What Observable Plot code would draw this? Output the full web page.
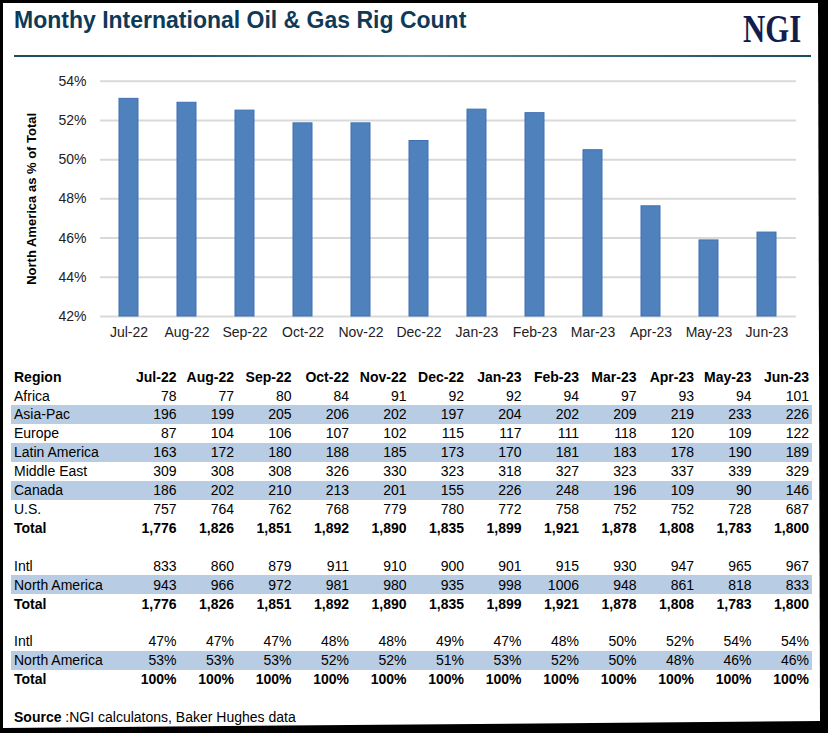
<!DOCTYPE html>
<html>
<head>
<meta charset="utf-8">
<script src="https://cdn.jsdelivr.net/npm/d3@7"></script>
<script src="https://cdn.jsdelivr.net/npm/@observablehq/plot@0.6"></script>
<style>
  body { margin: 0; background: #000; }
  #frame { position: relative; width: 828px; height: 733px; background: #000; overflow: hidden;
           font-family: "Liberation Sans", Arial, sans-serif; }
  #white { position: absolute; left: 0; top: 0; width: 828px; height: 733px; background: #fff;
           clip-path: polygon(3px 3px, 818px 3px, 820px 721px, 3px 728px); }
  #title { position: absolute; left: 14px; top: 9px; font-size: 23px; line-height: 23px; font-weight: bold;
           color: #0f3a57; white-space: nowrap; }
  #logo { position: absolute; left: 743px; top: 8.5px; font-family: "Liberation Serif", "Times New Roman", serif;
          font-size: 40px; line-height: 40px; font-weight: bold; color: #141c4e; transform: scaleX(0.77);
          transform-origin: left top; white-space: nowrap; }
  #rule { position: absolute; left: 14px; top: 55px; width: 797px; height: 2px;
          background: linear-gradient(to right, #1d4e64 0%, #2c5f75 25%, #5f889a 50%, #3d6a7e 75%, #1d4e64 100%); }
  #chart { position: absolute; left: 0; top: 60px; }
  #chart g[aria-label="y-axis label"], #chart g[aria-label="y-axis label"] text { font-weight: bold; font-size: 13px; fill: #000; }
  #tbl { position: absolute; left: 11px; top: 367.2px; width: 801px; border-collapse: collapse; table-layout: fixed;
         font-size: 14px; color: #000; }
  #tbl td { padding: 0 3px; height: 18.92px; line-height: 14px; white-space: nowrap; text-align: right; overflow: visible; }
  #tbl td:first-child { text-align: left; }
  #tbl tr.b td { font-weight: bold; }
  #tbl tr.s td { background: #b8cce4; }
  #source { position: absolute; left: 14px; top: 707.5px; height: 19px; line-height: 19px; font-size: 14px; color: #000; }
</style>
</head>
<body>
<div id="frame">
  <div id="white"></div>
  <div id="title">Monthy International Oil &amp; Gas Rig Count</div>
  <div id="logo">NGI</div>
  <div id="rule"></div>
  <div id="chart"></div>
  <table id="tbl"></table>
  <div id="source"><b>Source</b> :NGI calculatons, Baker Hughes data</div>
</div>
<script>
// ---- data ----
const months = ["Jul-22","Aug-22","Sep-22","Oct-22","Nov-22","Dec-22","Jan-23","Feb-23","Mar-23","Apr-23","May-23","Jun-23"];
const naShare = [53.1, 52.9, 52.5, 51.85, 51.85, 50.95, 52.55, 52.37, 50.48, 47.62, 45.88, 46.28];
const yTicks = [42, 44, 46, 48, 50, 52, 54];

const africa       = [78, 77, 80, 84, 91, 92, 92, 94, 97, 93, 94, 101];
const asiaPac      = [196, 199, 205, 206, 202, 197, 204, 202, 209, 219, 233, 226];
const europe       = [87, 104, 106, 107, 102, 115, 117, 111, 118, 120, 109, 122];
const latinAmerica = [163, 172, 180, 188, 185, 173, 170, 181, 183, 178, 190, 189];
const middleEast   = [309, 308, 308, 326, 330, 323, 318, 327, 323, 337, 339, 329];
const canada       = [186, 202, 210, 213, 201, 155, 226, 248, 196, 109, 90, 146];
const us           = [757, 764, 762, 768, 779, 780, 772, 758, 752, 752, 728, 687];
const total        = [1776, 1826, 1851, 1892, 1890, 1835, 1899, 1921, 1878, 1808, 1783, 1800];
const intl         = [833, 860, 879, 911, 910, 900, 901, 915, 930, 947, 965, 967];
const northAmerica = [943, 966, 972, 981, 980, 935, 998, 1006, 948, 861, 818, 833];
const intlPct      = [47, 47, 47, 48, 48, 49, 47, 48, 50, 52, 54, 54];
const naPct        = [53, 53, 53, 52, 52, 51, 53, 52, 50, 48, 46, 46];
const totalPct     = [100, 100, 100, 100, 100, 100, 100, 100, 100, 100, 100, 100];

// ---- chart ----
const barData = months.map((m, i) => ({month: m, share: naShare[i]}));

const chart = Plot.plot({
  width: 828,
  height: 290,
  marginLeft: 100,
  marginRight: 32,
  marginTop: 20.7,
  marginBottom: 34,
  style: {fontFamily: '"Liberation Sans", Arial, sans-serif', fontSize: "14px", color: "#222", background: "transparent"},
  x: {domain: months, paddingInner: 0.67, paddingOuter: 0.335, label: null, tickSize: 0, tickPadding: 11},
  y: {domain: [42, 54], ticks: yTicks, tickFormat: d => d + "%", tickSize: 0, tickPadding: 14,
      label: "North America as % of Total", labelAnchor: "center", labelOffset: 74, labelArrow: "none"},
  marks: [
    Plot.gridY(yTicks, {stroke: "#d9d9d9", strokeOpacity: 1, strokeWidth: 2}),
    Plot.barY(barData, {x: "month", y1: 42, y2: "share", fill: "#4f81bd", stroke: "#3f70b2", strokeWidth: 1})
  ]
});
document.getElementById("chart").appendChild(chart);

// ---- table ----
const fmtComma = d3.format(",");
const fmtPlain = d => String(d);
const fmtPct = d => d + "%";
const rows = [
  {label: "Region", values: months, fmt: d => d, bold: true},
  {label: "Africa", values: africa, fmt: fmtPlain},
  {label: "Asia-Pac", values: asiaPac, fmt: fmtPlain, shade: true},
  {label: "Europe", values: europe, fmt: fmtPlain},
  {label: "Latin America", values: latinAmerica, fmt: fmtPlain, shade: true},
  {label: "Middle East", values: middleEast, fmt: fmtPlain},
  {label: "Canada", values: canada, fmt: fmtPlain, shade: true},
  {label: "U.S.", values: us, fmt: fmtPlain},
  {label: "Total", values: total, fmt: fmtComma, bold: true},
  null,
  {label: "Intl", values: intl, fmt: fmtPlain},
  {label: "North America", values: northAmerica, fmt: fmtPlain, shade: true},
  {label: "Total", values: total, fmt: fmtComma, bold: true},
  null,
  {label: "Intl", values: intlPct, fmt: fmtPct},
  {label: "North America", values: naPct, fmt: fmtPct, shade: true},
  {label: "Total", values: totalPct, fmt: fmtPct, bold: true}
];
const tbl = document.getElementById("tbl");
const colgroup = document.createElement("colgroup");
const c0 = document.createElement("col"); c0.style.width = "111px"; colgroup.appendChild(c0);
months.forEach(() => { const c = document.createElement("col"); c.style.width = "57.5px"; colgroup.appendChild(c); });
tbl.appendChild(colgroup);
const tbody = document.createElement("tbody");
rows.forEach(r => {
  const tr = document.createElement("tr");
  if (r === null) {
    for (let i = 0; i < 13; i++) { const td = document.createElement("td"); td.innerHTML = "&nbsp;"; tr.appendChild(td); }
  } else {
    if (r.bold) tr.classList.add("b");
    if (r.shade) tr.classList.add("s");
    const td0 = document.createElement("td"); td0.textContent = r.label; tr.appendChild(td0);
    r.values.forEach(v => { const td = document.createElement("td"); td.textContent = r.fmt(v); tr.appendChild(td); });
  }
  tbody.appendChild(tr);
});
tbl.appendChild(tbody);
</script>
</body>
</html>
